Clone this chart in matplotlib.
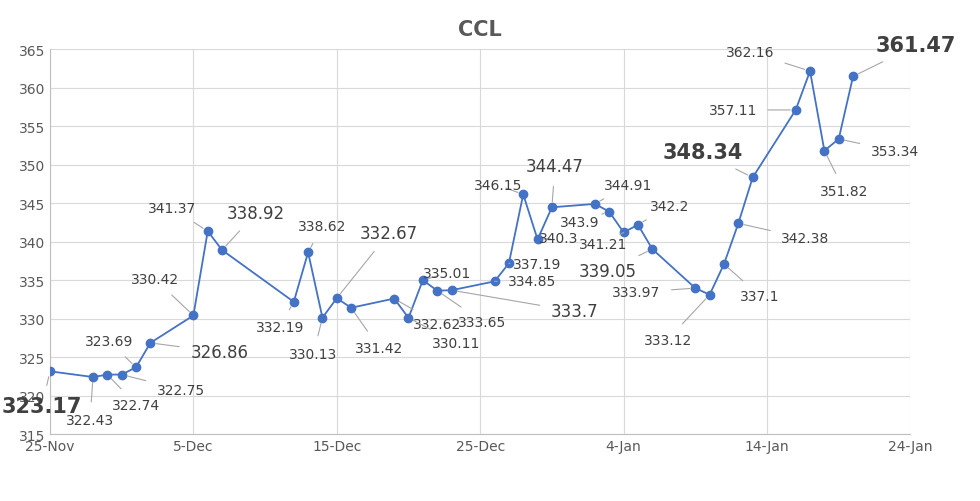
import matplotlib
matplotlib.use("Agg")
import matplotlib.pyplot as plt
import matplotlib.dates as mdates
import numpy as np
import datetime as dt

dates = ["2022-11-25","2022-11-28","2022-11-29","2022-11-30","2022-12-01","2022-12-02","2022-12-05",
         "2022-12-06","2022-12-07","2022-12-12","2022-12-13","2022-12-14","2022-12-15","2022-12-16",
         "2022-12-19","2022-12-20","2022-12-21","2022-12-22","2022-12-23","2022-12-26","2022-12-27",
         "2022-12-28","2022-12-29","2022-12-30","2023-01-02","2023-01-03","2023-01-04","2023-01-05",
         "2023-01-06","2023-01-09","2023-01-10","2023-01-11","2023-01-12","2023-01-13","2023-01-16",
         "2023-01-17","2023-01-18","2023-01-19","2023-01-20"]
values = [323.17,322.43,322.74,322.75,323.69,326.86,330.42,341.37,338.92,332.19,338.62,330.13,332.67,
          331.42,332.62,330.11,335.01,333.65,333.7,334.85,337.19,346.15,340.3,344.47,344.91,343.9,
          341.21,342.2,339.05,333.97,333.12,337.1,342.38,348.34,357.11,362.16,351.82,353.34,361.47]
labels = ["323.17","322.43","322.74","322.75","323.69","326.86","330.42","341.37","338.92","332.19",
          "338.62","330.13","332.67","331.42","332.62","330.11","335.01","333.65","333.7","334.85",
          "337.19","346.15","340.3","344.47","344.91","343.9","341.21","342.2","339.05","333.97",
          "333.12","337.1","342.38","348.34","357.11","362.16","351.82","353.34","361.47"]
tick_labels = ["25-Nov","5-Dec","15-Dec","25-Dec","4-Jan","14-Jan","24-Jan"]

offsets = [(-8,35),(-3,43),(29,30),(59,15),(-27,-26),(69,9),(-38,-36),(-36,-23),(34,-37),(-14,25),
           (14,-26),(-9,36),(52,-65),(28,40),(43,25),(48,25),(24,-7),(45,31),(123,21),(38,0),
           (28,1),(-25,-9),(21,-1),(3,-41),(33,-19),(-30,10),(-20,12),(32,-19),(-45,22),(-59,4),
           (-42,45),(36,32),(67,15),(-50,-25),(-63,0),(-60,-19),(20,40),(56,12),(63,-31)]
big_bold = {"323.17","348.34","361.47"}
big = {"326.86","338.92","332.67","333.7","344.47","339.05"}

x = [mdates.date2num(dt.date.fromisoformat(d)) for d in dates]

fig = plt.figure(figsize=(9.8,5.02), dpi=100)
ax = fig.add_axes([0.051, 0.133, 0.878, 0.767])
blue = "#4472C4"
ax.plot(x, values, color=blue, lw=1.3, marker='o', ms=6, zorder=3)
for xi, yi, lab, off in zip(x, values, labels, offsets):
    if lab in big_bold:
        fs, fw = 15, 'bold'
    elif lab in big:
        fs, fw = 12, 'normal'
    else:
        fs, fw = 10, 'normal'
    ax.annotate(lab, (xi, yi), xytext=(off[0], -off[1]), textcoords='offset pixels',
                ha='center', va='center', fontsize=fs, fontweight=fw, color='#404040',
                arrowprops=dict(arrowstyle='-', color='#A6A6A6', lw=0.8, shrinkA=6, shrinkB=4))

start = mdates.date2num(dt.date(2022,11,25))
ticks = [start + 10*i for i in range(7)]
ax.set_xlim(ticks[0], ticks[-1])
ax.set_xticks(ticks)
ax.set_xticklabels(tick_labels)
ax.set_ylim(315, 365)
ax.set_yticks(range(315, 366, 5))
ax.grid(True, color='#D9D9D9', lw=0.8)
ax.set_axisbelow(True)
for s in ['top','right']:
    ax.spines[s].set_visible(False)
for s in ['left','bottom']:
    ax.spines[s].set_color('#BFBFBF')
ax.tick_params(colors='#595959', labelsize=10, length=0)
ax.set_title("CCL", fontsize=15, fontweight='bold', color='#595959', pad=10)
fig.savefig("out.png", dpi=100)
